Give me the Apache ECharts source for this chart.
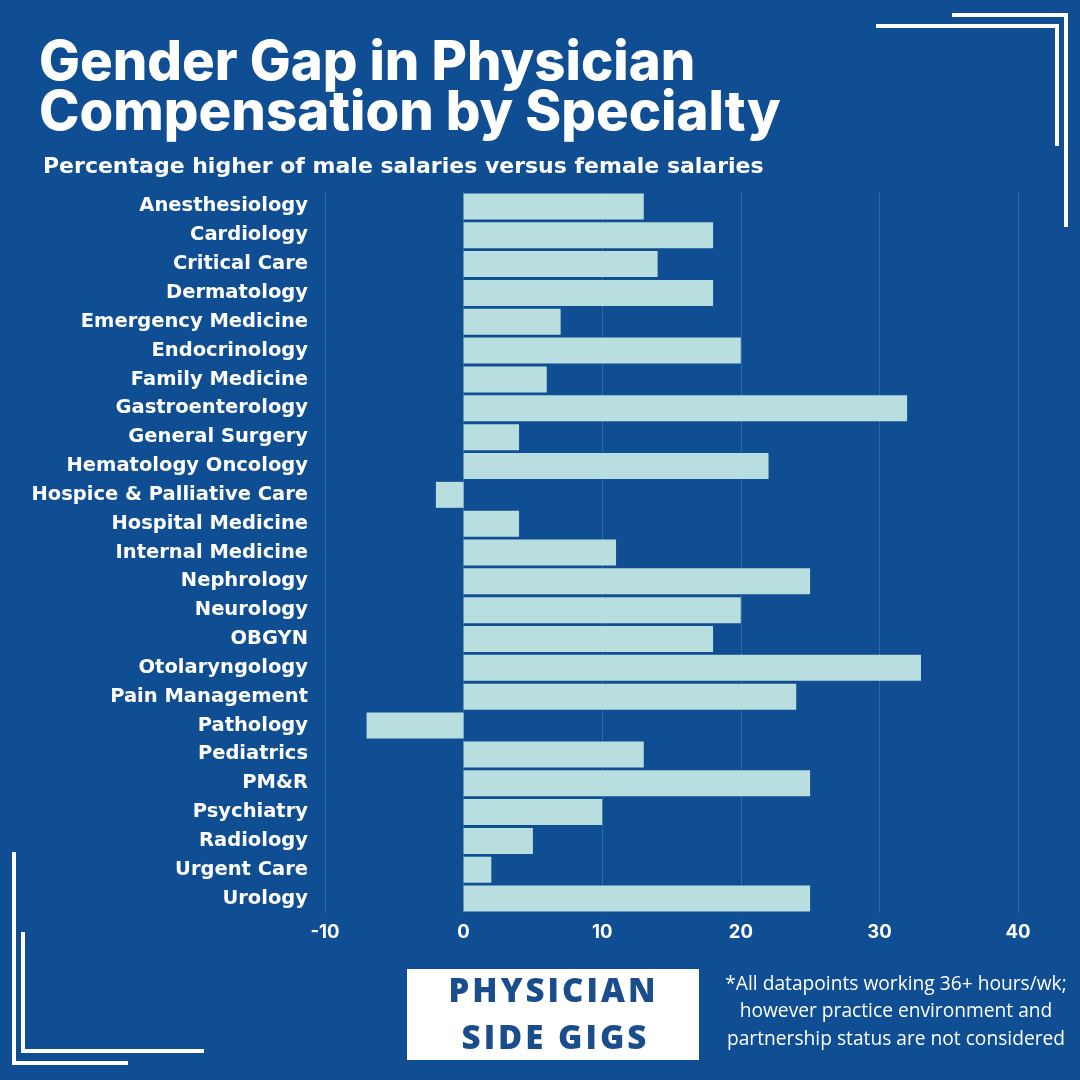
<!DOCTYPE html>
<html>
<head>
<meta charset="utf-8">
<script src="https://cdn.jsdelivr.net/npm/echarts@6/dist/echarts.min.js"></script>
<style>
  html, body { margin: 0; padding: 0; background: #0f4e92; }
  #main { width: 1080px; height: 1080px; }
</style>
</head>
<body>
<div id="main"></div>
<script>
// specialties, top to bottom
var specialties = [
    'Anesthesiology', 'Cardiology', 'Critical Care', 'Dermatology', 'Emergency Medicine',
    'Endocrinology', 'Family Medicine', 'Gastroenterology', 'General Surgery', 'Hematology Oncology',
    'Hospice & Palliative Care', 'Hospital Medicine', 'Internal Medicine', 'Nephrology', 'Neurology',
    'OBGYN', 'Otolaryngology', 'Pain Management', 'Pathology', 'Pediatrics',
    'PM&R', 'Psychiatry', 'Radiology', 'Urgent Care', 'Urology'
];
// % higher of male vs female salaries
var gapValues = [
    13, 18, 14, 18, 7,
    20, 6, 32, 4, 22,
    -2, 4, 11, 25, 20,
    18, 33, 24, -7, 13,
    25, 10, 5, 2, 25
];
var xMin = -10, xMax = 40, xStep = 10;
var footnoteLines = [
    '*All datapoints working 36+ hours/wk;',
    'however practice environment and',
    'partnership status are not considered'
];

var bg = '#0f4e92';
var barColor = '#b8dedf';
var font = 'Inter';
var labelFont = 'DejaVu Sans';

// logo text with letter spacing: one text element per letter
function spacedText(str, cx, cy, fontStr, spacing, color) {
    var ctx = document.createElement('canvas').getContext('2d');
    ctx.font = fontStr;
    var widths = str.split('').map(function (ch) { return ctx.measureText(ch).width; });
    var total = widths.reduce(function (a, b) { return a + b; }, 0) + spacing * (str.length - 1);
    var x = cx - total / 2;
    var els = [];
    str.split('').forEach(function (ch, i) {
        els.push({
            type: 'text', x: x, y: cy,
            style: { text: ch, fill: color, font: fontStr, align: 'left', verticalAlign: 'middle' }
        });
        x += widths[i] + spacing;
    });
    return els;
}

var myChart = echarts.init(document.getElementById('main'));

var graphics = [
    // top right corner lines
    { type: 'rect', shape: { x: 952, y: 13, width: 116, height: 4 }, style: { fill: '#fff' } },
    { type: 'rect', shape: { x: 1064, y: 13, width: 4, height: 214 }, style: { fill: '#fff' } },
    { type: 'rect', shape: { x: 876, y: 24, width: 183, height: 4 }, style: { fill: '#fff' } },
    { type: 'rect', shape: { x: 1055, y: 24, width: 4, height: 122 }, style: { fill: '#fff' } },
    // bottom left corner lines
    { type: 'rect', shape: { x: 12, y: 852, width: 4, height: 213 }, style: { fill: '#fff' } },
    { type: 'rect', shape: { x: 12, y: 1061, width: 116, height: 4 }, style: { fill: '#fff' } },
    { type: 'rect', shape: { x: 21, y: 932, width: 4, height: 121 }, style: { fill: '#fff' } },
    { type: 'rect', shape: { x: 21, y: 1049, width: 183, height: 4 }, style: { fill: '#fff' } },
    // logo box
    { type: 'rect', shape: { x: 407, y: 969, width: 292, height: 91 }, style: { fill: '#fff' } },
    {
        type: 'text', x: 896, y: 1012,
        style: {
            text: footnoteLines.join('\n'), fill: '#fff', font: '19.2px "Open Sans"',
            lineHeight: 27.5, align: 'center', verticalAlign: 'middle'
        }
    }
];
graphics = graphics
    .concat(spacedText('PHYSICIAN', 552, 993, '800 33px "Open Sans"', 3, '#1a4d8c'))
    .concat(spacedText('SIDE GIGS', 554, 1040, '800 33px "Open Sans"', 3, '#1a4d8c'));

var option = {
    backgroundColor: bg,
    title: [
        {
            text: 'Gender Gap in Physician\nCompensation by Specialty',
            left: 34,
            top: 34,
            textStyle: {
                color: '#fff',
                fontFamily: font,
                fontWeight: 800,
                fontSize: 54.5,
                lineHeight: 50
            }
        },
        {
            text: 'Percentage higher of male salaries versus female salaries',
            left: 38,
            top: 151,
            textStyle: {
                color: '#fff',
                fontFamily: labelFont,
                fontWeight: 700,
                fontSize: 22
            }
        }
    ],
    grid: {
        left: 325,
        right: 62,
        top: 192,
        bottom: 167
    },
    xAxis: {
        type: 'value',
        min: xMin,
        max: xMax,
        interval: xStep,
        axisLine: { show: false },
        axisTick: { show: false },
        splitLine: { lineStyle: { color: 'rgba(255,255,255,0.14)', width: 1 } },
        axisLabel: {
            color: '#fff',
            fontFamily: font,
            fontWeight: 700,
            fontSize: 18.5,
            margin: 10
        }
    },
    yAxis: {
        type: 'category',
        inverse: true,
        data: specialties,
        axisLine: { show: false },
        axisTick: { show: false },
        axisLabel: {
            color: '#fff',
            fontFamily: labelFont,
            fontWeight: 700,
            fontSize: 19.5,
            margin: 17,
            padding: [3, 0, 0, 0]
        }
    },
    series: [
        {
            type: 'bar',
            data: gapValues,
            barWidth: 26,
            itemStyle: { color: barColor },
            silent: true
        }
    ],
    graphic: graphics
};
myChart.setOption(option);
</script>
</body>
</html>
